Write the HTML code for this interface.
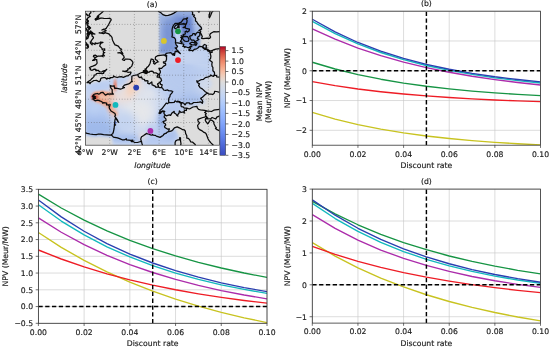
<!DOCTYPE html>
<html lang="en"><head><meta charset="utf-8"><title>NPV versus discount rate</title>
<style>html,body{margin:0;padding:0;background:#fff}svg{display:block}text{font-family:"DejaVu Sans","Liberation Sans",sans-serif;stroke:#1c1c1c;stroke-width:.17px}</style></head>
<body>
<svg width="550" height="347" viewBox="0 0 550 347">
<rect width="550" height="347" fill="#fff"/>
<rect x="312.3" y="11.2" width="228.2" height="134" fill="#fff"/>
<path d="M312.3 11.2V145.2M357.94 11.2V145.2M403.58 11.2V145.2M449.22 11.2V145.2M494.86 11.2V145.2M540.5 11.2V145.2M312.3 130.31H540.5M312.3 100.53H540.5M312.3 70.76H540.5M312.3 40.98H540.5M312.3 11.2H540.5" stroke="#c6c6c6" stroke-width="0.62" fill="none"/>
<g fill="none" stroke-width="1.35" stroke-linejoin="round" clip-path="url(#cpb)">
<clipPath id="cpb"><rect x="312.3" y="11.2" width="228.2" height="134"/></clipPath>
<polyline points="312.3,112.44 335.12,119.12 357.94,124.62 380.76,129.16 403.58,132.89 426.4,135.97 449.22,138.5 472.04,140.59 494.86,142.32 517.68,143.73 540.5,144.9" stroke="#c8c320"/>
<polyline points="312.3,62.27 335.12,69 357.94,74.58 380.76,79.21 403.58,83.05 426.4,86.24 449.22,88.88 472.04,91.07 494.86,92.89 517.68,94.4 540.5,95.65" stroke="#169444"/>
<polyline points="312.3,81.62 335.12,85.63 357.94,88.96 380.76,91.73 403.58,94.03 426.4,95.95 449.22,97.54 472.04,98.86 494.86,99.96 517.68,100.88 540.5,101.64" stroke="#ee1c25"/>
<polyline points="312.3,21.32 335.12,33.69 357.94,43.97 380.76,52.5 403.58,59.59 426.4,65.48 449.22,70.38 472.04,74.45 494.86,77.83 517.68,80.63 540.5,82.96" stroke="#12b9bd"/>
<polyline points="312.3,28.77 335.12,39.2 357.94,48.08 380.76,55.64 403.58,62.08 426.4,67.57 449.22,72.24 472.04,76.22 494.86,79.61 517.68,82.5 540.5,84.96" stroke="#ac2cab"/>
<polyline points="312.3,19.24 335.12,31.96 357.94,42.49 380.76,51.19 403.58,58.39 426.4,64.35 449.22,69.28 472.04,73.36 494.86,76.73 517.68,79.52 540.5,81.83" stroke="#2a3fb0"/>
<path d="M312.3 70.76H540.5M426.4 145.2V11.2" stroke="#000" stroke-width="1.45" stroke-dasharray="4.3 2.5"/>
</g>
<rect x="312.3" y="11.2" width="228.2" height="134" fill="none" stroke="#333333" stroke-width="0.8"/>
<path d="M312.3 145.2v2.7M357.94 145.2v2.7M403.58 145.2v2.7M449.22 145.2v2.7M494.86 145.2v2.7M540.5 145.2v2.7M312.3 130.31h-2.7M312.3 100.53h-2.7M312.3 70.76h-2.7M312.3 40.98h-2.7M312.3 11.2h-2.7" stroke="#333333" stroke-width="0.7" fill="none"/>
<g font-size="7.7" fill="#1c1c1c">
<text x="312.3" y="156.5" text-anchor="middle">0.00</text>
<text x="357.94" y="156.5" text-anchor="middle">0.02</text>
<text x="403.58" y="156.5" text-anchor="middle">0.04</text>
<text x="449.22" y="156.5" text-anchor="middle">0.06</text>
<text x="494.86" y="156.5" text-anchor="middle">0.08</text>
<text x="540.5" y="156.5" text-anchor="middle">0.10</text>
<text x="307" y="133.11" text-anchor="end">−2</text>
<text x="307" y="103.33" text-anchor="end">−1</text>
<text x="307" y="73.56" text-anchor="end">0</text>
<text x="307" y="43.78" text-anchor="end">1</text>
<text x="307" y="14" text-anchor="end">2</text>
<text x="426.4" y="167.6" text-anchor="middle">Discount rate</text>
<text x="426.4" y="6.3" text-anchor="middle">(b)</text>
</g>
<text font-size="7.7" fill="#1c1c1c" text-anchor="middle" transform="translate(290.2 78.2) rotate(-90)">NPV (Meur/MW)</text>
<rect x="38.4" y="189.3" width="228.6" height="134" fill="#fff"/>
<path d="M38.4 189.3V323.3M84.12 189.3V323.3M129.84 189.3V323.3M175.56 189.3V323.3M221.28 189.3V323.3M267 189.3V323.3M38.4 323.3H267.0M38.4 306.55H267.0M38.4 289.8H267.0M38.4 273.05H267.0M38.4 256.3H267.0M38.4 239.55H267.0M38.4 222.8H267.0M38.4 206.05H267.0M38.4 189.3H267.0" stroke="#c6c6c6" stroke-width="0.62" fill="none"/>
<g fill="none" stroke-width="1.35" stroke-linejoin="round" clip-path="url(#cpc)">
<clipPath id="cpc"><rect x="38.4" y="189.3" width="228.6" height="134"/></clipPath>
<polyline points="38.4,232.52 61.26,247.32 84.12,260.39 106.98,271.94 129.84,282.14 152.7,291.14 175.56,299.09 198.42,306.11 221.28,312.32 244.14,317.79 267,322.63" stroke="#c8c320"/>
<polyline points="38.4,194.19 61.26,207.99 84.12,220.15 106.98,230.86 129.84,240.29 152.7,248.6 175.56,255.91 198.42,262.36 221.28,268.03 244.14,273.03 267,277.44" stroke="#169444"/>
<polyline points="38.4,250 61.26,259 84.12,266.88 106.98,273.78 129.84,279.82 152.7,285.11 175.56,289.74 198.42,293.8 221.28,297.36 244.14,300.47 267,303.2" stroke="#ee1c25"/>
<polyline points="38.4,204.81 61.26,221.05 84.12,234.93 106.98,246.79 129.84,256.94 152.7,265.61 175.56,273.03 198.42,279.37 221.28,284.79 244.14,289.42 267,293.38" stroke="#12b9bd"/>
<polyline points="38.4,217.91 61.26,232.22 84.12,244.59 106.98,255.29 129.84,264.53 152.7,272.51 175.56,279.42 198.42,285.38 221.28,290.54 244.14,294.99 267,298.85" stroke="#ac2cab"/>
<polyline points="38.4,200.02 61.26,216.86 84.12,231.25 106.98,243.54 129.84,254.03 152.7,263 175.56,270.66 198.42,277.2 221.28,282.79 244.14,287.56 267,291.64" stroke="#2a3fb0"/>
<path d="M38.4 306.55H267.0M152.7 323.3V189.3" stroke="#000" stroke-width="1.45" stroke-dasharray="4.3 2.5"/>
</g>
<rect x="38.4" y="189.3" width="228.6" height="134" fill="none" stroke="#333333" stroke-width="0.8"/>
<path d="M38.4 323.3v2.7M84.12 323.3v2.7M129.84 323.3v2.7M175.56 323.3v2.7M221.28 323.3v2.7M267 323.3v2.7M38.4 323.3h-2.7M38.4 306.55h-2.7M38.4 289.8h-2.7M38.4 273.05h-2.7M38.4 256.3h-2.7M38.4 239.55h-2.7M38.4 222.8h-2.7M38.4 206.05h-2.7M38.4 189.3h-2.7" stroke="#333333" stroke-width="0.7" fill="none"/>
<g font-size="7.7" fill="#1c1c1c">
<text x="38.4" y="334.6" text-anchor="middle">0.00</text>
<text x="84.12" y="334.6" text-anchor="middle">0.02</text>
<text x="129.84" y="334.6" text-anchor="middle">0.04</text>
<text x="175.56" y="334.6" text-anchor="middle">0.06</text>
<text x="221.28" y="334.6" text-anchor="middle">0.08</text>
<text x="267" y="334.6" text-anchor="middle">0.10</text>
<text x="33.1" y="326.1" text-anchor="end">−0.5</text>
<text x="33.1" y="309.35" text-anchor="end">0.0</text>
<text x="33.1" y="292.6" text-anchor="end">0.5</text>
<text x="33.1" y="275.85" text-anchor="end">1.0</text>
<text x="33.1" y="259.1" text-anchor="end">1.5</text>
<text x="33.1" y="242.35" text-anchor="end">2.0</text>
<text x="33.1" y="225.6" text-anchor="end">2.5</text>
<text x="33.1" y="208.85" text-anchor="end">3.0</text>
<text x="33.1" y="192.1" text-anchor="end">3.5</text>
<text x="152.7" y="345.7" text-anchor="middle">Discount rate</text>
<text x="152.7" y="184.4" text-anchor="middle">(c)</text>
</g>
<text font-size="7.7" fill="#1c1c1c" text-anchor="middle" transform="translate(8.4 256.3) rotate(-90)">NPV (Meur/MW)</text>
<rect x="312.3" y="189.1" width="228.2" height="134" fill="#fff"/>
<path d="M312.3 189.1V323.1M357.94 189.1V323.1M403.58 189.1V323.1M449.22 189.1V323.1M494.86 189.1V323.1M540.5 189.1V323.1M312.3 316.72H540.5M312.3 284.81H540.5M312.3 252.91H540.5M312.3 221H540.5M312.3 189.1H540.5" stroke="#c6c6c6" stroke-width="0.62" fill="none"/>
<g fill="none" stroke-width="1.35" stroke-linejoin="round" clip-path="url(#cpd)">
<clipPath id="cpd"><rect x="312.3" y="189.1" width="228.2" height="134"/></clipPath>
<polyline points="312.3,242.6 335.12,256.09 357.94,267.84 380.76,278.07 403.58,286.98 426.4,294.74 449.22,301.5 472.04,307.38 494.86,312.51 517.68,316.98 540.5,320.87" stroke="#c8c320"/>
<polyline points="312.3,201.32 335.12,213.85 357.94,224.76 380.76,234.26 403.58,242.52 426.4,249.72 449.22,255.98 472.04,261.43 494.86,266.18 517.68,270.31 540.5,273.9" stroke="#169444"/>
<polyline points="312.3,246.4 335.12,254.36 357.94,261.3 380.76,267.34 403.58,272.6 426.4,277.19 449.22,281.18 472.04,284.66 494.86,287.69 517.68,290.33 540.5,292.63" stroke="#ee1c25"/>
<polyline points="312.3,203.3 335.12,218.55 357.94,231.44 380.76,242.33 403.58,251.52 426.4,259.29 449.22,265.85 472.04,271.4 494.86,276.08 517.68,280.04 540.5,283.38" stroke="#12b9bd"/>
<polyline points="312.3,214.62 335.12,228.45 357.94,240.13 380.76,250.02 403.58,258.38 426.4,265.45 449.22,271.43 472.04,276.48 494.86,280.76 517.68,284.37 540.5,287.43" stroke="#ac2cab"/>
<polyline points="312.3,199.82 335.12,215.2 357.94,228.28 380.76,239.4 403.58,248.86 426.4,256.9 449.22,263.73 472.04,269.55 494.86,274.49 517.68,278.69 540.5,282.26" stroke="#2a3fb0"/>
<path d="M312.3 284.81H540.5M426.4 323.1V189.1" stroke="#000" stroke-width="1.45" stroke-dasharray="4.3 2.5"/>
</g>
<rect x="312.3" y="189.1" width="228.2" height="134" fill="none" stroke="#333333" stroke-width="0.8"/>
<path d="M312.3 323.1v2.7M357.94 323.1v2.7M403.58 323.1v2.7M449.22 323.1v2.7M494.86 323.1v2.7M540.5 323.1v2.7M312.3 316.72h-2.7M312.3 284.81h-2.7M312.3 252.91h-2.7M312.3 221h-2.7M312.3 189.1h-2.7" stroke="#333333" stroke-width="0.7" fill="none"/>
<g font-size="7.7" fill="#1c1c1c">
<text x="312.3" y="334.4" text-anchor="middle">0.00</text>
<text x="357.94" y="334.4" text-anchor="middle">0.02</text>
<text x="403.58" y="334.4" text-anchor="middle">0.04</text>
<text x="449.22" y="334.4" text-anchor="middle">0.06</text>
<text x="494.86" y="334.4" text-anchor="middle">0.08</text>
<text x="540.5" y="334.4" text-anchor="middle">0.10</text>
<text x="307" y="319.52" text-anchor="end">−1</text>
<text x="307" y="287.61" text-anchor="end">0</text>
<text x="307" y="255.71" text-anchor="end">1</text>
<text x="307" y="223.8" text-anchor="end">2</text>
<text x="307" y="191.9" text-anchor="end">3</text>
<text x="426.4" y="345.5" text-anchor="middle">Discount rate</text>
<text x="426.4" y="184.2" text-anchor="middle">(d)</text>
</g>
<text font-size="7.7" fill="#1c1c1c" text-anchor="middle" transform="translate(290.2 256.1) rotate(-90)">NPV (Meur/MW)</text>
<defs>
<clipPath id="mapclip"><rect x="85.4" y="11.2" width="134.1" height="134"/></clipPath>
<mask id="regmask" maskUnits="userSpaceOnUse" x="85.4" y="11.2" width="134.1" height="134"><g filter="url(#bm)"><path d="M85.4 132.8L85.4 84.8L101.5 80.8L110.2 78.7L118.7 77.3L129 75.5L131.6 74L136.3 72.8L137.8 74.5L138.4 76.7L140 77.6L141.5 76.9L142.3 79L144.4 79.3L144.9 80.9L147.1 80.6L148 81.1L147.7 83.3L149.5 83.8L151.8 81.9L152.1 84.9L152.9 85.1L155.4 86.4L155.8 87.3L158 86.9L158 86.9L159.7 87.6L161.4 87.6L161.4 87.6L162.2 84.9L160.6 84.3L159.9 82.3L159.9 82.3L161.6 80.6L160.8 78.2L159.2 77.2L159.2 77.2L159.6 75.9L159.7 75.2L158.5 74.8L159.5 74L160.4 72.3L160.3 71.1L158.9 68.4L161.6 68.4L163.4 66.4L165.7 65L165.6 63.7L163.5 63L163.4 61.8L165.6 61.8L166.5 59.5L166.5 56.7L165.3 55.4L164 54.1L159.1 53.7L159 53L159 7.4L158.5 11.5L160.9 12.8L162.8 14.6L165.6 15.7L168.3 15.3L171.4 14.4L173.9 13.1L176.4 11.5L178.8 9L180.7 7.4L180.7 7.4L191.5 7.4L191.5 7.4L191.8 11L192.7 12.8L192.4 14.6L194.5 15.1L193.6 16.4L195.5 18.2L195.5 20.9L196.7 21.7L197.6 23.5L199.2 25.3L201.3 27.5L201.6 29.2L200.1 29.7L198.9 30.5L200.7 31.2L200.4 32.7L200.9 35.8L200.4 39.2L200.1 42.6L199.8 46.3L201.6 46.7L202.9 47.3L203.2 45.6L204.7 44.5L206.6 45.5L206.9 47.9L206.9 49.2L208.4 49.9L209.8 50.9L209.8 50.9L210.1 52.8L210.9 56.2L210.6 58.3L209.4 60L212.3 62.2L211.8 64.1L212.1 66.4L212.9 67.4L212.9 70.7L214.4 72.3L214.6 74L213.5 76.3L213.5 76.3L212.1 75.9L210.6 75L210.3 76L208.4 76.8L205.3 77.6L203.5 79.3L201 79.7L198.2 81.3L196.7 80.9L197.3 82.5L199.5 83.9L198.6 85.3L200.1 87.7L202.3 88.9L205.3 91.7L207.4 93.1L207.4 93.1L205 94.7L202.4 97.2L200.7 98.3L202.3 100.4L202.8 101.7L202.3 103.4L200.7 101.8L199.2 102.1L197.2 102.4L193.6 102.5L191.8 103.9L189.8 103.9L189.3 102.9L186.5 102.8L185 104.9L183.8 103.3L182.2 102.6L181 102.9L181 102.9L178.7 101.9L177 102L175.1 100.8L174.2 102.4L171.4 102.7L168.9 102.4L168.9 102.4L167.7 103.6L166.2 103.1L165.3 104.3L164.3 105.7L161.9 108.8L159.9 110.5L159.7 112.5L158.9 113.2L160 113.6L160.9 112.9L160.6 112.1L162.5 111.3L164.1 111.5L164 113.6L165.5 115.3L165.5 115.3L164.3 116.1L164.1 117.1L165.9 118.9L166 120.5L164.9 120.9L163 121.6L163.7 123L165.3 123.8L165.7 125L164.5 126.3L164.8 127.4L167.4 129.1L169.4 128.9L168.5 131.7L170.1 131.4L171.6 130.9L172.7 130L174.4 127.8L176 130L178.2 134.6L179.7 137.6L177.9 139.8L175.7 140.9L175.1 142.4L175.1 145.7L112.8 145.7L112.2 138.3L111.1 137L109.7 137.4L106.7 137.1L103.6 136.8L100.8 136.4L98.6 136.2L96.2 136.8L92.8 136.7L90 136.2L87.2 135.7L85.4 135ZM168.9 102.4L171.4 102.7L174.2 102.4L175.1 100.8L177 102L178.7 101.9L181 102.9L181 102.9L181.3 104.3L180.9 104.9L181.3 106.6L183 106.9L184.4 108.2L186.7 108.1L186.7 108.1L186.4 110.5L184.4 110.2L184.1 112.9L184.7 113L183.4 111.9L181 112.5L179.4 110.9L179.1 113L177.6 114.8L177.8 116.1L176.7 115.2L176 114L174.2 112.9L174.2 111.3L172 112.9L170.6 115.4L169.3 114.9L166.3 115.8L165.5 115.3L165.5 115.3L164 113.6L164.1 111.5L162.5 111.3L160.6 112.1L160.9 112.9L160 113.6L158.9 113.2L159.7 112.5L159.9 110.5L161.9 108.8L164.3 105.7L165.3 104.3L166.2 103.1L167.7 103.6L168.9 102.4Z" fill="#fff"/><ellipse cx="204.1" cy="84.1" rx="8" ry="6" fill="#fff" opacity="0.8" filter="url(#b1)"/><ellipse cx="189.9" cy="104.3" rx="9.9" ry="2.4" fill="#fff" opacity="0.9" filter="url(#b1)"/><ellipse cx="202.3" cy="101.6" rx="3.1" ry="3.2" fill="#fff" opacity="0.6" filter="url(#b1)"/></g></mask>
<filter id="bm" x="-50%" y="-50%" width="200%" height="200%"><feGaussianBlur stdDeviation="0.9"/></filter>
<filter id="b0" x="-50%" y="-50%" width="200%" height="200%"><feGaussianBlur stdDeviation="0.6"/></filter>
<filter id="b1" x="-50%" y="-50%" width="200%" height="200%"><feGaussianBlur stdDeviation="1.2"/></filter>
<filter id="b2" x="-50%" y="-50%" width="200%" height="200%"><feGaussianBlur stdDeviation="2.5"/></filter>
<filter id="b3" x="-50%" y="-50%" width="200%" height="200%"><feGaussianBlur stdDeviation="4"/></filter>
<filter id="b4" x="-50%" y="-50%" width="200%" height="200%"><feGaussianBlur stdDeviation="6"/></filter>
<linearGradient id="cbar" x1="0" y1="1" x2="0" y2="0">
<stop offset="0.0000" stop-color="rgb(58,76,192)"/>
<stop offset="0.0674" stop-color="rgb(72,96,209)"/>
<stop offset="0.1349" stop-color="rgb(88,118,226)"/>
<stop offset="0.2023" stop-color="rgb(105,139,239)"/>
<stop offset="0.2697" stop-color="rgb(123,158,248)"/>
<stop offset="0.3372" stop-color="rgb(141,175,253)"/>
<stop offset="0.4046" stop-color="rgb(157,189,254)"/>
<stop offset="0.4721" stop-color="rgb(175,202,251)"/>
<stop offset="0.5395" stop-color="rgb(192,211,245)"/>
<stop offset="0.6069" stop-color="rgb(207,217,234)"/>
<stop offset="0.6744" stop-color="rgb(221,220,219)"/>
<stop offset="0.7069" stop-color="rgb(232,213,202)"/>
<stop offset="0.7395" stop-color="rgb(241,202,182)"/>
<stop offset="0.7721" stop-color="rgb(246,188,162)"/>
<stop offset="0.8046" stop-color="rgb(246,171,141)"/>
<stop offset="0.8372" stop-color="rgb(243,152,121)"/>
<stop offset="0.8697" stop-color="rgb(237,132,103)"/>
<stop offset="0.9023" stop-color="rgb(227,108,84)"/>
<stop offset="0.9349" stop-color="rgb(214,82,67)"/>
<stop offset="0.9674" stop-color="rgb(197,50,51)"/>
<stop offset="1.0000" stop-color="rgb(179,3,38)"/>
</linearGradient>
</defs>
<g clip-path="url(#mapclip)">
<rect x="85.4" y="11.2" width="134.1" height="134" fill="#dddddd"/>
<g mask="url(#regmask)">
<rect x="85.4" y="11.2" width="134.1" height="134" fill="#c9d7f1"/>
<ellipse cx="91.2" cy="122.5" rx="18.7" ry="20.8" fill="#a9c1ee" opacity="1" filter="url(#b4)"/>
<ellipse cx="100.5" cy="128.5" rx="21.8" ry="8" fill="#9fb9ea" opacity="1" filter="url(#b3)"/>
<ellipse cx="94.3" cy="107" rx="9.3" ry="8" fill="#bcd0f3" opacity="1" filter="url(#b3)"/>
<ellipse cx="100.5" cy="86.5" rx="16.2" ry="5.6" fill="#b7cbf1" opacity="1" filter="url(#b3)"/>
<ellipse cx="120.2" cy="81.7" rx="10" ry="3.6" fill="#b9cdf2" opacity="1" filter="url(#b2)"/>
<ellipse cx="138.1" cy="110.2" rx="18.7" ry="16" fill="#e3e6ec" opacity="1" filter="url(#b4)"/>
<ellipse cx="139.3" cy="112.5" rx="10" ry="9.6" fill="#e6e7ea" opacity="1" filter="url(#b3)"/>
<ellipse cx="125.2" cy="122.5" rx="11.2" ry="11.2" fill="#c4d4f0" opacity="1" filter="url(#b3)"/>
<ellipse cx="125.2" cy="138.3" rx="16.2" ry="4" fill="#a5bdeb" opacity="1" filter="url(#b2)"/>
<ellipse cx="162.5" cy="121.7" rx="4.4" ry="12" fill="#93afe6" opacity="1" filter="url(#b2)"/>
<ellipse cx="161.6" cy="131.5" rx="6.2" ry="4.8" fill="#b4c8ef" opacity="1" filter="url(#b2)"/>
<ellipse cx="151.7" cy="130.8" rx="3.1" ry="7.2" fill="#b9cbee" opacity="1" filter="url(#b2)"/>
<ellipse cx="156" cy="140.5" rx="16.2" ry="4.8" fill="#b0c5ef" opacity="1" filter="url(#b3)"/>
<ellipse cx="171.4" cy="135.3" rx="5.6" ry="6.4" fill="#9db6e8" opacity="1" filter="url(#b3)"/>
<ellipse cx="115.2" cy="122.8" rx="1.2" ry="1.3" fill="#4f6fd0" opacity="1" filter="url(#b0)"/>
<ellipse cx="131.3" cy="90.5" rx="16.2" ry="6.4" fill="#eedfd8" opacity="1" filter="url(#b3)" transform="rotate(-30 131.3 90.5)"/>
<ellipse cx="149.2" cy="93.7" rx="10" ry="6.4" fill="#e2e5ec" opacity="1" filter="url(#b3)"/>
<ellipse cx="132.3" cy="86.5" rx="4.7" ry="12.8" fill="#f5d2bc" opacity="1" filter="url(#b2)" transform="rotate(25 132.3 86.5)"/>
<ellipse cx="118.4" cy="97.6" rx="12.4" ry="5.6" fill="#ecdfda" opacity="1" filter="url(#b3)"/>
<ellipse cx="103.6" cy="97.3" rx="11.8" ry="4" fill="#f3bda2" opacity="1" filter="url(#b2)"/>
<ellipse cx="101.7" cy="93.3" rx="8.1" ry="1.8" fill="#f1a88c" opacity="1" filter="url(#b1)"/>
<ellipse cx="101.1" cy="100.4" rx="6.8" ry="1.6" fill="#f1a88c" opacity="1" filter="url(#b1)" transform="rotate(12 101.1 100.4)"/>
<ellipse cx="94.9" cy="96.9" rx="3.7" ry="2.9" fill="#d64b3b" opacity="1" filter="url(#b1)"/>
<ellipse cx="93.6" cy="96.6" rx="1.9" ry="1.4" fill="#7d0b1c" opacity="1" filter="url(#b0)"/>
<ellipse cx="115.2" cy="84.9" rx="1.2" ry="6.8" fill="#ee8e70" opacity="1" filter="url(#b1)"/>
<ellipse cx="115" cy="86.1" rx="0.7" ry="3.6" fill="#de5a45" opacity="1" filter="url(#b1)"/>
<ellipse cx="112.2" cy="89.7" rx="1.9" ry="4" fill="#f3c3ad" opacity="1" filter="url(#b1)"/>
<ellipse cx="106" cy="103.1" rx="6.8" ry="2.4" fill="#f0a88b" opacity="1" filter="url(#b2)" transform="rotate(25 106 103.1)"/>
<path d="M95.9 100.8L97.5 100.4L98.6 100.2L101.2 101.2L102 101.4L103.6 102.4L103.6 103.3L104.6 102.6L105.9 102.8L107.4 103.1L107.3 104.8L109.3 104.9L111.1 104.9L109.6 105.3L109.9 106.2L110.5 106.7L109.9 107.8L110.9 109.5L111.8 111L113.9 112.2L115.7 113.6L116.2 115.2" stroke="#ef9f80" stroke-width="3" fill="none" stroke-linejoin="round" filter="url(#b1)"/>
<path d="M113.3 94.2L110.7 93.9L109.6 94.1L107.8 93.9L105.4 95.1L103.6 93.1L103 92.3L100.8 92.7L99.6 93.9L98.3 94.1L97.5 93.5L95.4 93.9L93.7 94.5" stroke="#f0a587" stroke-width="2.4" fill="none" stroke-linejoin="round" filter="url(#b1)"/>
<ellipse cx="111.3" cy="108.6" rx="2.8" ry="6.8" fill="#f0a88b" opacity="1" filter="url(#b2)" transform="rotate(-25 111.3 108.6)"/>
<ellipse cx="114.7" cy="113.6" rx="1.9" ry="3.6" fill="#f1c4ae" opacity="1" filter="url(#b2)"/>
<ellipse cx="142.4" cy="135.7" rx="3.7" ry="4" fill="#e6dcdc" opacity="1" filter="url(#b2)"/>
<ellipse cx="183.8" cy="76.8" rx="27.4" ry="24" fill="#b7caee" opacity="1" filter="url(#b4)"/>
<ellipse cx="201" cy="59.5" rx="9.3" ry="7.2" fill="#c6d5f0" opacity="1" filter="url(#b3)"/>
<ellipse cx="191.2" cy="100" rx="16.2" ry="5.6" fill="#a3bbea" opacity="1" filter="url(#b3)"/>
<ellipse cx="172.7" cy="98.4" rx="3.7" ry="7.2" fill="#b0c5ee" opacity="1" filter="url(#b2)"/>
<ellipse cx="173.3" cy="109.4" rx="10" ry="4" fill="#b3c7ee" opacity="1" filter="url(#b2)"/>
<ellipse cx="204.7" cy="84.1" rx="7.5" ry="5.6" fill="#d6dff0" opacity="1" filter="url(#b3)"/>
<rect x="159" y="11.2" width="47" height="45.8" fill="#8ca5da"/>
<ellipse cx="160.3" cy="28.8" rx="2.5" ry="22.4" fill="#a9bde6" opacity="1" filter="url(#b2)"/>
<ellipse cx="168.3" cy="15.5" rx="10" ry="3.2" fill="#a3b9e4" opacity="1" filter="url(#b2)"/>
<ellipse cx="167.7" cy="49" rx="9.3" ry="3.6" fill="#7a96d6" opacity="1" filter="url(#b2)"/>
<ellipse cx="168.3" cy="34.9" rx="5" ry="13.6" fill="#738fd2" opacity="1" filter="url(#b3)"/>
<ellipse cx="182.5" cy="20.9" rx="11.2" ry="7.2" fill="#6f8bd1" opacity="1" filter="url(#b3)"/>
<ellipse cx="185.6" cy="24.4" rx="5" ry="4.8" fill="#5a76c5" opacity="1" filter="url(#b2)"/>
<ellipse cx="189.3" cy="28.8" rx="5.6" ry="11.2" fill="#5f7bc9" opacity="1" filter="url(#b3)"/>
<ellipse cx="197.3" cy="22.6" rx="4.4" ry="12" fill="#b4c6ec" opacity="1" filter="url(#b2)"/>
<ellipse cx="199.2" cy="33.2" rx="2.5" ry="4" fill="#b9caee" opacity="1" filter="url(#b2)"/>
<ellipse cx="185.6" cy="12.4" rx="10" ry="2.8" fill="#9fb5e4" opacity="1" filter="url(#b2)"/>
<ellipse cx="187.5" cy="38.3" rx="8.1" ry="5.6" fill="#6c88d0" opacity="1" filter="url(#b3)"/>
<ellipse cx="194.2" cy="37.9" rx="3.7" ry="4" fill="#a9bfec" opacity="1" filter="url(#b2)"/>
<ellipse cx="189.9" cy="46.1" rx="9.3" ry="2.4" fill="#a4baea" opacity="1" filter="url(#b2)"/>
<path d="M166.5 56.6L166.8 55.8L165.4 54.9L166.2 53.4L168.3 53L170.8 52.7L171.7 53.3L172.3 54.5L173.3 55.2L173.3 53.7L174.5 54.1L174.5 55.4L174.8 53.7L175.1 51.6L175.7 51.3L177.6 51.6L180.4 53.7L178.2 51.1L177 50.3L176.7 49.2L175.1 47.8L176.7 47.8L177.6 46.2L176.4 45.2L175.7 43.7L175.4 42.6L175.4 42.6L177.6 42.8L180.4 43.3L180.2 43.5L182.8 43.8L183.8 44.5L183.4 45.6L182.8 46.3L184.7 46.7L184.7 47.5L185.6 46.7L188.1 47.8L189.9 47.1L190.5 48.6L188.7 49.9L189.2 50.6L191.2 50.3L192.7 51L194.2 49.3L196.6 48.8L198.2 47.8L199.2 46.3L201.6 46.7L202.3 46.9L202.9 47.8L205 49.5L206.9 49.2L208.4 49.9L210 51L211.5 63.7L165.3 63.7ZM202.9 47.3L203.2 45.6L204.7 44.5L206.6 45.5L206 47.3L206.9 47.9L204.7 48.4L202.9 47.3Z" fill="#bfd0ef" filter="url(#b0)"/>
<ellipse cx="186.8" cy="57" rx="19.9" ry="4" fill="#c8d6f0" opacity="1" filter="url(#b3)"/>
<ellipse cx="177.6" cy="32.3" rx="3.1" ry="7.2" fill="#c9d8f5" opacity="1" filter="url(#b1)"/>
<ellipse cx="178.8" cy="39.2" rx="2.8" ry="4.8" fill="#c0d1f3" opacity="1" filter="url(#b1)"/>
</g>
<path d="M103.5 9.8L103.1 11.6L101.4 13L99.6 14.4L97.7 16L97.1 16.8L98.8 16.7L97.7 17.8L97.2 18.4L95.3 19.1L96.8 19.1L95.9 20L97 19.4L98.2 19.2L100.6 18.2L101.9 18L103.8 18.4L106.5 18.5L109.7 18.3L110.9 19L111.2 20L110.1 21.6L109.3 23.2L108.5 24.8L107 27L106.2 28.4L105.3 28.9L103.8 29.1L101.9 30L103.9 29.4L104.8 30.2L106.1 30.7L104.7 31.5L102.7 32.2L101.1 33L99.1 32.8L101.1 33.2L102.5 33.3L103.6 33.6L105.3 32.6L106.5 33.2L108.9 33.9L109.7 35.1L111 36.1L112 37.3L112.3 39.2L112.8 40.7L113.3 41.7L113.7 42.6L114.1 43.5L114.8 44.4L115 44.9L115.9 45.2L118.3 46.1L119.6 47.9L120.4 48.5L121.6 49.3L120.8 49.8L121.1 51.1L122.3 52.6L122.9 53.8L121.5 53.3L120 52.6L117.8 52.8L120.2 53L121.6 53.8L122.7 54.9L123.7 55.9L124.2 57.5L123.3 58.5L122.4 59.4L123.3 60.2L124.5 60.4L125.1 59.1L127.3 59L130.1 59.3L131.6 60.4L132.8 62L132.9 63L132.4 64.3L131.9 65.8L131.3 66.6L130.4 67.4L129.5 67.5L130 68.2L129 68.8L127.8 68.9L127.9 70.1L126.4 70.9L124.5 71.4L122.7 71.1L124.5 71.5L126.4 71.5L127.9 72.3L130.6 72L131 72.3L130.7 73.4L130.2 74.2L129.4 74.6L128.1 75.9L126.8 75.8L125.7 76.4L123.9 77.1L123.4 77.3L121.2 76.7L119 76.8L117.2 77.5L115.3 76.8L113.4 76L114.1 76.8L112.5 77.5L110.5 77.5L109.9 77.8L110.1 78.5L109.1 78.5L107.1 78.2L106.9 79.2L105.1 77.6L104 77.5L102.1 77.8L101 78.4L100.5 79.1L100.5 80.1L99.6 81.5L98.6 81.5L96.5 80.4L94.6 80.5L93.5 80.6L92.5 81.5L90.9 82.2L90 83.6L89.3 82.7L88 82.4L86.9 82.7L88.3 81.5L90.7 79.9L91.6 78.8L92.7 77.9L94 76.6L94.1 75L95.9 74.8L96.5 73.5L98.5 73.3L100.7 73.5L102 73.7L103.6 73.4L103.7 72.3L104.8 71.4L105.6 70.7L106.7 69.3L105.6 70.3L103.7 70.8L102.5 71.4L101.7 72L100.1 71.9L99.1 71.4L98.5 70.3L97.6 70.3L97.2 70.6L95.6 70.6L96.2 69.8L94.9 69.1L93.4 69.3L93.1 69.9L91.7 70.3L90.2 69.6L90.6 68.7L89.4 67.8L90.8 66.8L92.8 66.2L95.2 65.2L96.9 63.6L97.1 62.5L96.8 61L96.7 59.5L94.9 59.7L94.2 60.4L92.6 60.5L94.2 59.2L95.4 57.9L96.5 56.9L98.3 56L99.9 56.2L101.6 55.8L103.1 56.8L102.5 55.4L103.5 55L104.5 55.9L103.5 54.7L103 53.9L103.7 53.1L104.8 52.5L103.4 52.3L103.3 51L104.5 50.3L104.7 48.8L103.3 49L102.2 49.6L102 48.4L101 47.3L99.7 46.1L100.1 44.8L101 43.2L103 42.4L100.5 42L99.9 42.9L98.3 43.2L97.1 43.7L95.1 42.9L95 44.5L92.4 43L92.1 44.9L90.4 43.1L90.3 41.8L91.1 42.5L91.2 40.9L92.1 39.7L93.5 37.8L93.3 37L92 35.9L92 34L93.4 33.7L94.9 34.1L93.1 33.2L92.2 32.3L92.3 33.3L91.6 34.3L90.9 33.2L91.2 31.4L90 33.6L89.4 34.5L89.3 33.2L90.6 31L89.1 32.7L88.5 34L88.8 35.6L87.9 38.3L86.4 39.2L86.8 37.1L87.5 35.3L87 34L88.2 32.3L87.9 30.5L89.4 29.2L90.6 27.9L88.8 27.9L87.2 27.5L88.5 26.2L86.9 24.8L88.2 23.5L87.2 21.7L88.2 20.9L86.6 20L87.5 18.2L89.1 16.9L90.3 16.4L88.8 15.5L89.7 13.7L90.9 12.8L90.6 11.5L91.2 9.9L92.8 10.4L93.7 11.5L94.8 10.6L97.3 10.1L100.4 10L101.3 9.5L103.5 9.8Z" fill="#dddddd"/>
<path d="M109.7 11.2V145.2M134.4 11.2V145.2M159.1 11.2V145.2M183.8 11.2V145.2M208.4 11.2V145.2M85.4 24.4H219.5M85.4 50.3H219.5M85.4 75.2H219.5M85.4 99.2H219.5M85.4 122.5H219.5" stroke="#555" stroke-width="0.6" stroke-dasharray="0.7 2.1" fill="none"/>
<path d="M103.5 9.8L103.1 11.6L101.4 13L99.6 14.4L97.7 16L97.1 16.8L98.8 16.7L97.7 17.8L97.2 18.4L95.3 19.1L96.8 19.1L95.9 20L97 19.4L98.2 19.2L100.6 18.2L101.9 18L103.8 18.4L106.5 18.5L109.7 18.3L110.9 19L111.2 20L110.1 21.6L109.3 23.2L108.5 24.8L107 27L106.2 28.4L105.3 28.9L103.8 29.1L101.9 30L103.9 29.4L104.8 30.2L106.1 30.7L104.7 31.5L102.7 32.2L101.1 33L99.1 32.8L101.1 33.2L102.5 33.3L103.6 33.6L105.3 32.6L106.5 33.2L108.9 33.9L109.7 35.1L111 36.1L112 37.3L112.3 39.2L112.8 40.7L113.3 41.7L113.7 42.6L114.1 43.5L114.8 44.4L115 44.9L115.9 45.2L118.3 46.1L119.6 47.9L120.4 48.5L121.6 49.3L120.8 49.8L121.1 51.1L122.3 52.6L122.9 53.8L121.5 53.3L120 52.6L117.8 52.8L120.2 53L121.6 53.8L122.7 54.9L123.7 55.9L124.2 57.5L123.3 58.5L122.4 59.4L123.3 60.2L124.5 60.4L125.1 59.1L127.3 59L130.1 59.3L131.6 60.4L132.8 62L132.9 63L132.4 64.3L131.9 65.8L131.3 66.6L130.4 67.4L129.5 67.5L130 68.2L129 68.8L127.8 68.9L127.9 70.1L126.4 70.9L124.5 71.4L122.7 71.1L124.5 71.5L126.4 71.5L127.9 72.3L130.6 72L131 72.3L130.7 73.4L130.2 74.2L129.4 74.6L128.1 75.9L126.8 75.8L125.7 76.4L123.9 77.1L123.4 77.3L121.2 76.7L119 76.8L117.2 77.5L115.3 76.8L113.4 76L114.1 76.8L112.5 77.5L110.5 77.5L109.9 77.8L110.1 78.5L109.1 78.5L107.1 78.2L106.9 79.2L105.1 77.6L104 77.5L102.1 77.8L101 78.4L100.5 79.1L100.5 80.1L99.6 81.5L98.6 81.5L96.5 80.4L94.6 80.5L93.5 80.6L92.5 81.5L90.9 82.2L90 83.6L89.3 82.7L88 82.4L86.9 82.7L88.3 81.5L90.7 79.9L91.6 78.8L92.7 77.9L94 76.6L94.1 75L95.9 74.8L96.5 73.5L98.5 73.3L100.7 73.5L102 73.7L103.6 73.4L103.7 72.3L104.8 71.4L105.6 70.7L106.7 69.3L105.6 70.3L103.7 70.8L102.5 71.4L101.7 72L100.1 71.9L99.1 71.4L98.5 70.3L97.6 70.3L97.2 70.6L95.6 70.6L96.2 69.8L94.9 69.1L93.4 69.3L93.1 69.9L91.7 70.3L90.2 69.6L90.6 68.7L89.4 67.8L90.8 66.8L92.8 66.2L95.2 65.2L96.9 63.6L97.1 62.5L96.8 61L96.7 59.5L94.9 59.7L94.2 60.4L92.6 60.5L94.2 59.2L95.4 57.9L96.5 56.9L98.3 56L99.9 56.2L101.6 55.8L103.1 56.8L102.5 55.4L103.5 55L104.5 55.9L103.5 54.7L103 53.9L103.7 53.1L104.8 52.5L103.4 52.3L103.3 51L104.5 50.3L104.7 48.8L103.3 49L102.2 49.6L102 48.4L101 47.3L99.7 46.1L100.1 44.8L101 43.2L103 42.4L100.5 42L99.9 42.9L98.3 43.2L97.1 43.7L95.1 42.9L95 44.5L92.4 43L92.1 44.9L90.4 43.1L90.3 41.8L91.1 42.5L91.2 40.9L92.1 39.7L93.5 37.8L93.3 37L92 35.9L92 34L93.4 33.7L94.9 34.1L93.1 33.2L92.2 32.3L92.3 33.3L91.6 34.3L90.9 33.2L91.2 31.4L90 33.6L89.4 34.5L89.3 33.2L90.6 31L89.1 32.7L88.5 34L88.8 35.6L87.9 38.3L86.4 39.2L86.8 37.1L87.5 35.3L87 34L88.2 32.3L87.9 30.5L89.4 29.2L90.6 27.9L88.8 27.9L87.2 27.5L88.5 26.2L86.9 24.8L88.2 23.5L87.2 21.7L88.2 20.9L86.6 20L87.5 18.2L89.1 16.9L90.3 16.4L88.8 15.5L89.7 13.7L90.9 12.8L90.6 11.5L91.2 9.9L92.8 10.4L93.7 11.5L94.8 10.6L97.3 10.1L100.4 10L101.3 9.5L103.5 9.8ZM94.9 57.6L93.4 56.4L93.9 55.4L95.6 55.2L97.1 56.2L96.2 57L94.9 57.6ZM175.1 145L175.1 142.4L175.7 140.9L177.9 139.8L179.4 139.9L179.7 137.6L180.5 137.9L180.5 140.5L181 143.9L180.7 145M202.9 47.3L203.2 45.6L204.7 44.5L206.6 45.5L206 47.3L206.9 47.9L204.7 48.4L202.9 47.3ZM189.9 46.5L191.2 45.9L191.8 46.7L190.5 46.9L189.9 46.5ZM182.2 37.5L183.8 36.6L185.6 36.4L187.5 36.6L188.1 37.5L189 39.2L188.4 41.1L186.8 41.5L184.7 41.1L183.4 40.1L182.8 38.8L182.2 37.5ZM190.5 35.9L192.1 35.3L193 33.6L194.5 33.6L195.2 35.3L196.1 33.6L197.9 32.1L199.8 32.9L199.8 35.8L198.2 36.6L197.3 38.2L198.9 39.4L196.7 40.8L194.9 41.8L193.9 40.2L191.5 40.1L190.5 38.8L189.6 36.4L190.5 35.9ZM189.8 43.2L191.8 42.2L194.9 42.8L195.2 44.6L192.7 45L189.9 43.9L189.8 43.2ZM194.9 42.8L196.7 42.6L197 43.7L195.9 45.5L195.2 44.6L194.9 42.8ZM160 113.2L160.9 111.9L162.8 110.8L164.8 111.3L164 111.9L162.2 111.5L160.9 112.6L160 113.2ZM177.6 101.2L179.4 101.6L181.3 102.8L182.2 103.1L180.7 103.1L178.8 102L177.6 101.2ZM206.9 49.2L208.4 49.9L210 51L207.8 51.1L206.9 49.2ZM85.4 47.9L87.4 48.2L88.5 47.1L88.3 45.6L87.5 46.5L87 45.4L87.9 44.5L85.4 45L86.9 43.9L86.4 43L85.4 42.2M85.4 30.4L87 29.7L86.6 28.8L85.4 28.4M85.4 23.7L87.2 22.5L85.4 21.7M137.8 74.5L136.8 74.8L133.5 75.5L131.8 76.3L131.9 77.5L131.7 80.1L132.3 81.7L131.3 81.7L130.5 82.8L128.7 83.9L124.4 85.2L122.7 87.2L124.5 87.7L123.3 88L122.4 88.5L120.5 89.1L118.3 88.6L115.6 88.2L114.8 88.5L114.2 86.6L114.3 85.8L112.1 86.1L110.1 85.6L110.9 88.1L112.2 89.6L112.2 92.6L113.3 94.2L110.7 93.9L109.6 94.1L107.8 93.9L105.4 95.1L103.6 93.1L103 92.3L100.8 92.7L99.6 93.9L98.3 94.1L97.5 93.5L95.4 93.9L93.7 94.5L92.7 96.1L92.7 96.6L94.6 96.2L95.6 96.9L94 97L93.7 97.8L95.6 98.4L92.8 98.9L95.1 100.8L96.8 100.4L97.9 100.2L100.5 101.2L101.3 101.4L102.8 102.4L102.8 103.3L103.9 102.6L105.1 102.8L106.7 103.1L106.5 104.8L108.5 104.9L110.4 104.9L108.8 105.3L109.1 106.2L109.7 106.7L109.1 107.8L110.1 109.5L111 111L113.1 112.2L115 113.6L115.5 115.2L114.7 116.3L115.7 117.7L117.5 120.2L118.4 122.3L117.1 120.2L115.5 118.1L114.9 120.2L114.7 122.5L114.4 125.1L115.6 124.9L114.4 125.5L114.1 128.5L113.3 132.3L112.7 133.7L111.1 134.8M111.1 134.8L109.7 135.2L106.7 134.9L103.6 134.6L100.8 134.2L98.6 134L96.2 134.6L92.8 134.4L90 134L87.2 133.4L85.4 132.8M111.1 134.8L112.1 135.7L113.4 137.2L117.5 137.9L120.2 138.9L122.1 139.8L124.5 139.8L126.4 138.7L126.4 139.9L131 140.4L131.3 141.7L132.7 141.3L134.4 142.3L137.5 142.5L140.6 141.5L141.6 141.8M131 140.4L132.9 140.2L132.7 141.3M142.4 145L141.8 143.1L141.6 141.8L140.8 139.8L140.9 138.3L141.6 136.8L143.7 135.5L144.9 134.6L146.8 133.4L147.7 134L149.2 134.2L150.5 134.9L152 135.1L152.6 134.4L153.2 135.1L155.1 135.3L156.3 136.1L158.7 136.8L160 137.4L161.6 136.4L163.1 135.5L163.7 134.4L165.4 133.4L166.1 133.4L166.9 132.3L168.5 131.7L170.1 131.4L171.6 130.9L172.7 130L174.4 127.8L177.2 126.9L178.8 127.6L180.7 128.5L182.7 129.7L184.1 129.8L185.3 131L185.6 133.4L186.8 135.7L186.8 138.1L188.4 138.3L189.9 140.2L190.8 142L192.7 142.2L194.9 144.2L195.5 145M213.1 145L211.2 143.1L209.7 141.5L208.1 139L207.3 136.8L206.1 133.7L205.3 132.9L203.5 132.1L201.6 130.6L199.6 129.6L198.2 128.2L197.6 125.5L198.6 124L199.5 122.8L197.9 120.9L197.9 119.4L199.8 118.6L202.9 117.5L204.7 117.1L205.6 116.5L207 117.5L206.7 118L205.6 118.6L205.3 120.2L206 121.7L207.7 123.8L208.7 122.5L209.7 120.9L210.6 119.9L211.8 120.3L213.7 121.8L214 124L215.2 126.3L216.4 127.8L215.5 128.5L217.1 129.7L219.8 130.8M137.8 74.5L140 73.3L141.8 72.5L142.9 72.2L144 71.9L146.1 72.3L148.3 72.2L146.4 71.8L144 71.5L143.4 70.7L144.9 70.3L147.4 71.1L145.8 69.6L144.9 69.1L146.4 68.7L146.8 67.4L147.5 67.1L148.4 66.2L149.3 64.9L150.1 63.2L150.6 61.2L151.2 59L152.6 59.3L153.5 60L153.2 61.6L154.5 61.4L153.5 63.3L154.8 64.1L156.3 62.5L158.2 62L156.6 60L155.4 59.7L155.3 58L155.5 57L157.2 55.9L159.1 55.4L160.3 55.4L162.5 55.1L164.3 54.9L165.6 56L166.5 56.6L166.8 55.8L165.4 54.9L166.2 53.4L168.3 53L170.8 52.7L171.7 53.3L172.3 54.5L173.3 55.2L173.3 53.7L174.5 54.1L174.5 55.4L174.8 53.7L175.1 51.6L175.7 51.3L177.6 51.6L180.4 53.7L178.2 51.1L177 50.3L176.7 49.2L175.1 47.8L176.7 47.8L177.6 46.2L176.4 45.2L175.7 43.7L175.4 42.6L175.6 40.9L175.4 39.2L174.2 37.7L171.9 37L172.3 35.3L172.2 33.2L172 30.5L172.3 28.4L172.7 26.9L173.9 24.8L175.1 23.3L178.8 23.2L181.3 22.2L183.4 19.2L185.9 18.6L187.6 17.8L186.5 19.5L187.1 20.5L186.8 22.6L185.9 24.4L183.8 23.7L180.7 24L178.2 24.4L175.7 25.3L174.2 27.5L175.4 28.8L177.6 27.5L177.9 26.2L179.1 27.9L178.8 24.4L181.3 24.2L183.8 24L185.6 24.6L185.3 26.6L183.1 27.5L185.6 27.7L185.9 28.4L189.5 29.2L189 31L187.1 32.1L186.5 31L185.1 31.8L185.3 34L183.1 34.5L184.1 34.9L182.8 36.2L181 35.8L182.4 36.9L180.7 37.5L181.8 38.2L181.3 40.1L180.4 41.4L182.2 42L181.3 42.8L180.2 43.5L182.8 43.8L183.8 44.5L183.4 45.6L182.8 46.3L184.7 46.7L184.7 47.5L185.6 46.7L188.1 47.8L189.9 47.1L190.5 48.6L188.7 49.9L189.2 50.6L191.2 50.3L192.7 51L194.2 49.3L196.6 48.8L198.2 47.8L199.2 46.3L201.6 46.7L202.3 46.9L202.9 47.8L205 49.5L206.9 49.2L208.4 49.9L210 51L212.1 50.7L213.4 49.9L215.8 49.2L219.8 48.6M210 51L209 51.6L210.3 52.7L212.1 52.4L212.1 50.7M191.5 7.4L191.8 11L192.7 12.8L192.4 14.6L194.5 15.1L193.6 16.4L195.5 18.2L195.5 20.9L196.7 21.7L197.6 23.5L199.2 25.3L201.3 27.5L201.6 29.2L200.1 29.7L198.9 30.5L200.7 31.2L200.4 32.7L201.6 34.9L202.3 36.6L201.6 38.3L203.2 38.6L207.2 38.1L209.7 38.3L210.6 37.1L209.7 35.3L210.3 33.8L211.8 32.7L213.7 31.7L216.4 31.8L219.8 31.7M197.9 7.4L197.9 11L198.9 12.2L199.8 10.6L201.6 9.7L202.3 7.4M210.3 7.4L210 11.9L209 16L209.5 17.8L210.6 15.5L211.8 12.4L213.7 10.1L214 7.4M158.5 11.5L160.9 12.8L162.8 14.6L165.6 15.7L168.3 15.3L171.4 14.4L173.9 13.1L176.4 11.5L178.8 9L180.7 7.4M186.7 108.1L188.4 108.6L189.9 108.8L193 107L197 106.4L197.3 107.8L198.6 109.4L200.4 109.8L204.7 110.4L206.7 110.8M206.7 110.8L211.5 111.5L213.7 110.2L215.2 109.8L219.8 109.4M159.2 77.2L160.8 78.2L161.6 80.6L159.9 82.3M159.9 82.3L157.5 84.1L158.5 86.1L158 86.9M142.9 72.2L146.1 73.6L148.3 72.2L149.2 72.2L150.1 71.3L151.7 71.1L152.9 71.3L153.5 72.8L156 72.9L158.2 74L157.2 76L157.2 77.2L159.2 77.2M181 102.9L181.3 104.3L180.9 104.9L181.3 106.6L183 106.9L184.4 108.2L186.7 108.1M168.9 102.4L171.4 102.7L174.2 102.4L175.1 100.8L177 102L178.7 101.9L181 102.9M186.7 108.1L186.4 110.5L184.4 110.2L184.1 112.9L184.7 113L183.4 111.9L181 112.5L179.4 110.9L179.1 113L177.6 114.8L177.8 116.1L176.7 115.2L176 114L174.2 112.9L174.2 111.3L172 112.9L170.6 115.4L169.3 114.9L166.3 115.8L165.5 115.3M207.4 93.1L208.7 94.1L211.2 94.2L212.7 94.5L214.3 93.1L214.6 91.3L216.4 91.5L219.8 92.3M213.5 76.3L214.6 75.2L216.4 75.4L216.9 77L219.8 77.2M181 102.9L182.2 102.6L183.8 103.3L185 104.9L186.5 102.8L189.3 102.9L189.8 103.9L191.8 103.9L193.6 102.5L197.2 102.4L199.2 102.1L200.7 101.8L202.3 103.4L202.8 101.7L202.3 100.4L200.7 98.3L202.4 97.2L205 94.7L207.4 93.1M207.4 93.1L205.3 91.7L202.3 88.9L200.1 87.7L198.6 85.3L199.5 83.9L197.3 82.5L196.7 80.9L198.2 81.3L201 79.7L203.5 79.3L205.3 77.6L208.4 76.8L210.3 76L210.6 75L212.1 75.9L213.5 76.3M213.5 76.3L214.6 74L214.4 72.3L212.9 70.7L212.9 67.4L212.1 66.4L211.8 64.1L212.3 62.2L209.4 60L210.6 58.3L210.9 56.2L210.1 52.8L209.8 50.9M175.4 42.6L177.6 42.8L180.4 43.3M137.8 74.5L138.4 76.7L140 77.6L141.5 76.9L142.3 79L144.4 79.3L144.9 80.9L147.1 80.6L148 81.1L147.7 83.3L149.5 83.8L151.8 81.9L152.1 84.9L152.9 85.1L155.4 86.4L155.8 87.3L158 86.9M168.9 102.4L167.7 103.6L166.2 103.1L165.3 104.3L164.3 105.7L161.9 108.8L159.9 110.5L159.7 112.5L158.9 113.2L160 113.6L160.9 112.9L160.6 112.1L162.5 111.3L164.1 111.5L164 113.6L165.5 115.3M161.4 87.6L162.5 88L163.6 90L165.6 90.4L167.7 89.9L168.6 90.7L171.1 90.9L172.8 91.5L172 92.9L170.2 94.9L169.9 96.6L168.8 98.4L168.6 100.8L168.9 102.4M165.5 115.3L164.3 116.1L164.1 117.1L165.9 118.9L166 120.5L164.9 120.9L163 121.6L163.7 123L165.3 123.8L165.7 125L164.5 126.3L164.8 127.4L167.4 129.1L169.4 128.9L168.5 131.7M158 86.9L159.7 87.6L161.4 87.6M206.7 110.8L204.7 112.5L206.3 113.5L205.3 114.8L206 115.9L207.5 117.9L206.7 118M159.9 82.3L160.6 84.3L162.2 84.9L161.4 87.6M166.5 56.7L166.5 59.5L165.6 61.8L163.4 61.8L163.5 63L165.6 63.7L165.7 65L163.4 66.4L161.6 68.4L158.9 68.4L160.3 71.1L160.4 72.3L159.5 74L158.5 74.8L159.7 75.2L159.6 75.9L159.2 77.2M206 118.9L207.8 118.9L210.9 118.6L212.1 117.5L215.8 119L216.8 117.1L219.8 115.9" stroke="#0a0a0a" stroke-width="1.25" stroke-linejoin="round" stroke-linecap="round" fill="none"/>
<path d="M87 19.5L88.2 21.5L87 22.8M89 26.5L90.2 27.8L88.8 28.6M87.2 31L88.6 32.6L87.4 33.6M86.4 14L87.6 15.4" stroke="#0a0a0a" stroke-width="1.5" stroke-linejoin="round" stroke-linecap="round" fill="none"/>
<path d="M95.6 19.4L98.2 17.4" stroke="#0a0a0a" stroke-width="2" stroke-linecap="round" fill="none"/>
<circle cx="178" cy="31.3" r="2.9" fill="#169444"/>
<circle cx="163.9" cy="40.9" r="2.9" fill="#d8c62c"/>
<circle cx="178" cy="60.1" r="2.9" fill="#ee1c25"/>
<circle cx="136.2" cy="87.6" r="2.9" fill="#2a3fb0"/>
<circle cx="115.5" cy="104.9" r="2.9" fill="#12b9bd"/>
<circle cx="150.4" cy="130.9" r="2.9" fill="#ac2cab"/>
</g>
<rect x="85.4" y="11.2" width="134.1" height="134" fill="none" stroke="#333333" stroke-width="0.7"/>
<rect x="219.9" y="46.6" width="5.8" height="108.7" fill="url(#cbar)" stroke="#333333" stroke-width="0.5"/>
<g font-size="7.7" fill="#1c1c1c">
<text x="231.6" y="158.1">−3.5</text>
<text x="231.6" y="147.6">−3.0</text>
<text x="231.6" y="137.2">−2.5</text>
<text x="231.6" y="126.7">−2.0</text>
<text x="231.6" y="116.2">−1.5</text>
<text x="231.6" y="105.8">−1.0</text>
<text x="231.6" y="95.3">−0.5</text>
<text x="231.6" y="84.8">0.0</text>
<text x="231.6" y="74.3">0.5</text>
<text x="231.6" y="63.9">1.0</text>
<text x="231.6" y="53.4">1.5</text>
<text text-anchor="middle" transform="translate(262.3 101.8) rotate(-90)">Mean NPV</text>
<text text-anchor="middle" transform="translate(271.2 101.8) rotate(-90)">(Meur/MW)</text>
<text x="85.1" y="154.5" text-anchor="middle">6°W</text>
<text x="109.7" y="154.5" text-anchor="middle">2°W</text>
<text x="134.4" y="154.5" text-anchor="middle">2°E</text>
<text x="159.1" y="154.5" text-anchor="middle">6°E</text>
<text x="183.8" y="154.5" text-anchor="middle">10°E</text>
<text x="208.4" y="154.5" text-anchor="middle">14°E</text>
<text text-anchor="middle" transform="translate(81.4 24.4) rotate(-90)">57°N</text>
<text text-anchor="middle" transform="translate(81.4 50.3) rotate(-90)">54°N</text>
<text text-anchor="middle" transform="translate(81.4 75.2) rotate(-90)">51°N</text>
<text text-anchor="middle" transform="translate(81.4 99.2) rotate(-90)">48°N</text>
<text text-anchor="middle" transform="translate(81.4 122.5) rotate(-90)">45°N</text>
<text text-anchor="middle" transform="translate(81.4 145) rotate(-90)">42°N</text>
<text x="152.4" y="167.7" text-anchor="middle" font-style="oblique">longitude</text>
<text text-anchor="middle" font-style="oblique" transform="translate(67.4 78.3) rotate(-90)">latitude</text>
<text x="152.2" y="6.5" text-anchor="middle">(a)</text>
</g>
<path d="M225.7 155.3h2.7M225.7 144.8h2.7M225.7 134.4h2.7M225.7 123.9h2.7M225.7 113.4h2.7M225.7 103h2.7M225.7 92.5h2.7M225.7 82h2.7M225.7 71.5h2.7M225.7 61.1h2.7M225.7 50.6h2.7" stroke="#333333" stroke-width="0.7" fill="none"/>
</svg>
</body></html>
